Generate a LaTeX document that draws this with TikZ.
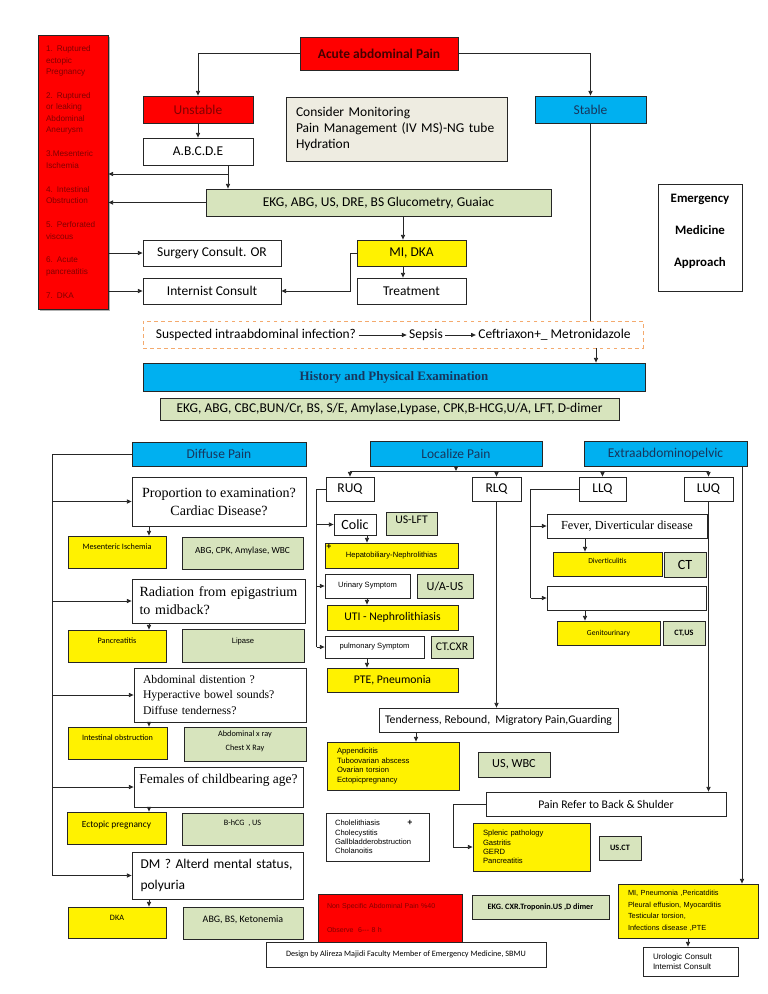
\documentclass[tikz,border=0pt]{standalone}
\usepackage{fontspec}
\setmainfont{Carlito}
\newfontfamily\tms{Liberation Serif}
\newfontfamily\ari{Liberation Sans}
\usepackage{xcolor}
\usepackage{tikz}
\usetikzlibrary{arrows.meta,shadows}

\definecolor{labgreen}{RGB}{215,228,189}
\definecolor{skyblue}{RGB}{0,176,240}
\definecolor{navy}{RGB}{23,54,93}
\definecolor{darkred}{RGB}{130,0,0}
\definecolor{maroon}{RGB}{70,0,0}
\definecolor{beige}{RGB}{238,236,225}
\definecolor{dashorange}{RGB}{244,170,110}

\tikzset{
  bx/.style={draw=black!85, line width=0.7pt, inner sep=1pt, align=center,
    font=\fontsize{11.5}{14}\selectfont},
  wbx/.style={bx, fill=white},
  ybx/.style={bx, fill=yellow},
  gbx/.style={bx, fill=labgreen},
  bbx/.style={bx, fill=skyblue, text=navy},
  rbx/.style={bx, fill=red, text=darkred},
  wh/.style 2 args={minimum width=#1*0.03cm, minimum height=#2*0.03cm},
  tw/.style={text width=#1*0.03cm},
  lift/.style={text depth=#1*0.03cm},
  tinyf/.style={font=\ari\fontsize{6.5}{8}\selectfont},
  smf/.style={font=\fontsize{#1}{#1}\selectfont},
  serif/.style={font=\tms\fontsize{12}{15.3}\selectfont},
  arr/.style={-{Triangle[length=4pt,width=3.5pt]}, draw=black!85, line width=0.7pt},
  ln/.style={draw=black!85, line width=0.7pt}
}

\begin{document}
\begin{tikzpicture}[x=0.03cm,y=-0.03cm]
\useasboundingbox (0,0) rectangle (768,994);
%% left list
\node[rbx, wh={70}{274}, tw=54, align=left, font=\ari\fontsize{7}{9.8}\selectfont,
  drop shadow={shadow xshift=2pt,shadow yshift=-2pt,opacity=.3,fill=black}] (list) at (73,172)
  {1. Ruptured\\ectopic\\Pregnancy\\[10.6pt]2. Ruptured\\or leaking\\Abdominal\\Aneurysm\\[10.6pt]%
   3.Mesenteric\\Ischemia\\[10.6pt]4. Intestinal\\Obstruction\\[10.6pt]5. Perforated\\viscous\\[10.6pt]%
   6. Acute\\pancreatitis\\[10.6pt]7. DKA};
%% top
\node[rbx, wh={158}{33}, text=maroon, font=\bfseries\fontsize{11.5}{14}\selectfont] (acute) at (379,53.5) {Acute abdominal Pain};
\node[rbx, wh={110}{27}] (unst) at (198,109.5) {Unstable};
\node[wbx, wh={110}{27}] (abcde) at (198,151.5) {A.B.C.D.E};
\node[bx, fill=beige, wh={221}{64}, tw=201, align=left, font=\fontsize{11.5}{13.6}\selectfont] (monit) at (396.5,129)
  {Consider Monitoring\\Pain Management (IV MS)-NG tube\\Hydration};
\node[bbx, wh={111}{27}] (stab) at (590.5,109.5) {Stable};
\node[gbx, wh={345}{27}] (ekg) at (378.5,202.5) {EKG, ABG, US, DRE, BS Glucometry, Guaiac};
\node[wbx, wh={138}{26}] (surg) at (212,253) {Surgery Consult. OR};
\node[wbx, wh={138}{26}] (intc) at (212,291) {Internist Consult};
\node[ybx, wh={109}{26}] (midka) at (411.5,253) {MI, DKA};
\node[wbx, wh={109}{26}] (treat) at (411.5,291) {Treatment};
\node[wbx, wh={84}{107}, font=\bfseries\fontsize{11}{27.2}\selectfont, lift=14] (ema) at (700,237.5) {Emergency\\Medicine\\Approach};
%%
\draw[arr] (acute.west) -| (unst.north);
\draw[arr] (acute.east) -| (stab.north);
\draw[arr] (unst.south) -- (abcde.north);
\coordinate (j1) at (228,174);
\draw[ln] (abcde.south -| j1) -- (j1);
\draw[arr] (j1) -- (j1 |- ekg.north);
\draw[arr] (j1) -- (j1 -| list.east);
\draw[arr] (ekg.west) -- (ekg.west -| list.east);
\draw[arr] (surg.west -| list.east) -- (surg.west);
\draw[arr] (intc.west -| list.east) -- (intc.west);
\coordinate (j2) at (403,230);
\draw[arr] (ekg.south -| j2) -- (midka.north -| j2);
\draw[arr] (midka.south -| j2) -- (treat.north -| j2);
\draw[arr] (midka.west) -- ++(-6,0) |- (intc.east);
%% infection row
\node[draw=dashorange, dashed, line width=0.8pt, wh={500}{27}, inner sep=0pt] (infbox) at (393,334.5) {};
\node[inner sep=2pt, font=\fontsize{11.5}{14}\selectfont] (inf) at (256,335) {Suspected intraabdominal infection?};
\node[inner sep=2pt, font=\fontsize{11.5}{14}\selectfont] (seps) at (426,335) {Sepsis};
\node[inner sep=2pt, font=\fontsize{11.5}{14}\selectfont] (ceft) at (554.5,335) {Ceftriaxon+\_ Metronidazole};
\draw[arr] (inf) -- (seps);
\draw[arr] (seps) -- (ceft);
\node[bbx, wh={502}{28}, font=\tms\bfseries\fontsize{11}{13}\selectfont] (hp) at (394,377) {History and Physical Examination};
\node[gbx, wh={459}{22}] (labs) at (389.5,409) {EKG, ABG, CBC,BUN/Cr, BS, S/E, Amylase,Lypase, CPK,B-HCG,U/A, LFT, D-dimer};
\draw[ln] (stab.south) -- (stab.south |- infbox.north);
\coordinate (j3) at (596,355);
\draw[arr] (infbox.south -| j3) -- (hp.north -| j3);
%% three heads
\node[bbx, wh={174}{24}] (diffuse) at (219,454) {Diffuse Pain};
\node[bbx, wh={172}{25}] (local) at (456,453.5) {Localize Pain};
\node[bbx, wh={163}{25}] (extra) at (665.5,453.5) {Extraabdominopelvic};
%% diffuse pain
\node[wbx, wh={174}{49}, serif] (q1) at (219,501.5) {Proportion to examination?\\Cardiac Disease?};
\node[ybx, wh={98}{32}, smf=7, lift=10] (mes) at (117,552) {Mesenteric Ischemia};
\node[gbx, wh={121}{32}, smf=8, lift=5] (t1) at (242.5,553) {ABG, CPK, Amylase, WBC};
\node[wbx, wh={173}{44}, serif, tw=158, align=left] (q2) at (218.5,601) {Radiation from epigastrium\\to midback?};
\node[ybx, wh={98}{32}, smf=7, lift=10] (pan) at (117,646) {Pancreatitis};
\node[gbx, wh={122}{33}, tinyf, lift=10] (lip) at (243,645.5) {Lipase};
\node[wbx, wh={172}{54}, font=\tms\fontsize{10}{13.2}\selectfont, tw=154, align=left] (q3) at (220,695) {Abdominal distention ?\\Hyperactive bowel sounds?\\Diffuse tenderness?};
\node[ybx, wh={99}{32}, smf=7, lift=10] (obs) at (117.5,743) {Intestinal obstruction};
\node[gbx, wh={122}{34}, font=\fontsize{7}{12}\selectfont, lift=6] (xray) at (245,744) {Abdominal x ray\\Chest X Ray};
\node[wbx, wh={169}{40}, font=\tms\fontsize{11.5}{14}\selectfont, lift=16] (q4) at (218.5,787) {Females of childbearing age?};
\node[ybx, wh={99}{32}, smf=8, lift=8] (ect) at (116.5,828) {Ectopic pregnancy};
\node[gbx, wh={121}{32}, smf=7, lift=12] (bhcg) at (242.5,829) {B-hCG\ \ , US};
\node[wbx, wh={171}{47}, font=\fontsize{11.5}{18}\selectfont, tw=154, align=left] (q5) at (217.5,875.5) {DM ? Alterd mental status,\\polyuria};
\node[ybx, wh={98}{31}, smf=7, lift=10] (dka) at (117,922.5) {DKA};
\node[gbx, wh={120}{32}, smf=8.5, lift=8] (ket) at (243,923) {ABG, BS, Ketonemia};
%%
\coordinate (dl) at (52,454);
\draw[ln] (diffuse.west) -- (diffuse.west -| dl) -- (q5.west -| dl);
\foreach \q in {q1,q2,q3,q4,q5} \draw[arr] (\q.west -| dl) -- (\q.west);
\coordinate (dx) at (149,0);
\foreach \q/\d in {q1/mes,q2/pan,q3/obs,q4/ect,q5/dka} \draw[arr] (\q.south -| dx) -- (\d.north -| dx);
%% localize pain
\node[wbx, wh={48}{24}] (ruq) at (350,489) {RUQ};
\node[wbx, wh={49}{24}] (rlq) at (496.5,489) {RLQ};
\node[wbx, wh={47}{24}] (llq) at (602.5,489) {LLQ};
\node[wbx, wh={49}{24}] (luq) at (708.5,489) {LUQ};
\coordinate (bus) at (456,471);
\draw[ln] (bus -| ruq.north) -- (bus -| luq.north);
\draw[arr] (local.south) -- (bus);
\foreach \b in {ruq,rlq,llq,luq} \draw[arr] (bus -| \b.north) -- (\b.north);
%% RUQ
\node[wbx, wh={42}{21}, smf=12] (colic) at (355,524.5) {Colic};
\node[gbx, wh={51}{23}, smf=10, lift=7] (uslft) at (411.5,523.5) {US-LFT};
\node[ybx, wh={133}{25}, tinyf] (hep) at (391.5,555.5) {Hepatobiliary-Nephrolithias};
\node[inner sep=0pt, font=\bfseries\fontsize{8}{8}\selectfont] (plusa) at (329,547) {+};
\node[wbx, wh={85}{24}, tinyf] (uri) at (367.5,586) {Urinary Symptom};
\node[gbx, wh={56}{24}, smf=10.5] (uaus) at (445,586) {U/A-US};
\node[ybx, wh={131}{25}, smf=10] (uti) at (392.5,617.5) {UTI - Nephrolithiasis};
\node[wbx, wh={99}{22}, tinyf] (pul) at (374.5,647) {pulmonary Symptom};
\node[gbx, wh={42}{22}, smf=10] (ctcxr) at (452,647) {CT.CXR};
\node[ybx, wh={131}{24}, smf=10] (pte) at (392.5,680) {PTE, Pneumonia};
\draw[ln] (ruq.west) -- ++(-9,0) coordinate (rl) -- (rl |- pul.west);
\foreach \b in {colic,uri,pul} \draw[arr] (rl |- \b.west) -- (\b.west);
\coordinate (rx) at (367,0);
\foreach \a/\b in {colic/hep,uri/uti,pul/pte} \draw[arr] (\a.south -| rx) -- (\b.north -| rx);
%% RLQ
\node[wbx, wh={239}{24}, smf=10] (tend) at (498.5,720) {Tenderness, Rebound, \ Migratory Pain,Guarding};
\node[ybx, wh={132}{48}, tinyf, tw=112, align=left] (app) at (393,766) {Appendicitis\\Tuboovarian abscess\\Ovarian torsion\\Ectopicpregnancy};
\node[gbx, wh={72}{25}, smf=10.5] (uswbc) at (514,764.5) {US, WBC};
\draw[arr] (rlq.south) -- (rlq.south |- tend.north);
\coordinate (tx) at (416,0);
\draw[arr] (tend.south -| tx) -- (app.north -| tx);
%% LLQ
\node[wbx, wh={160}{24}, font=\tms\fontsize{10.5}{13}\selectfont] (fever) at (627,526) {Fever, Diverticular disease};
\node[ybx, wh={109}{24}, smf=6.5, lift=6] (divt) at (607.5,564) {Diverticulitis};
\node[gbx, wh={42}{25}, smf=12] (ct) at (685,564.5) {CT};
\node[wbx, wh={159}{24}] (empt) at (626.5,598) {};
\node[ybx, wh={103}{24}, smf=6.5] (gen) at (608.5,633) {Genitourinary};
\node[gbx, wh={42}{24}, font=\bfseries\fontsize{7}{8}\selectfont] (ctus) at (684,633) {CT,US};
\draw[ln] (llq.west) -- ++(-48,0) coordinate (ll) -- (ll |- empt.west);
\foreach \b in {fever,empt} \draw[arr] (ll |- \b.west) -- (\b.west);
\coordinate (lx) at (585,0);
\foreach \a/\b in {fever/divt,empt/gen} \draw[arr] (\a.south -| lx) -- (\b.north -| lx);
%% LUQ
\node[wbx, wh={240}{24}, smf=10] (refer) at (606,804) {Pain Refer to Back \& Shulder};
\node[ybx, wh={117}{48}, tinyf, tw=97, align=left] (splen) at (531.5,847) {Splenic pathology\\Gastritis\\GERD\\Pancreatitis};
\node[gbx, wh={42}{24}, font=\bfseries\fontsize{7}{8}\selectfont] (usct) at (620,848) {US.CT};
\node[wbx, wh={103}{48}, tinyf, tw=85, align=left] (chole) at (377.5,837) {Cholelithiasis\\Cholecystitis\\Gallbladderobstruction\\Cholanoitis};
\node[inner sep=0pt, font=\bfseries\fontsize{8}{8}\selectfont] (plusb) at (410,823) {+};
\draw[arr] (luq.south) -- (luq.south |- refer.north);
\draw[arr] (refer.west) -- ++(-32,0) |- (splen.west);
%% extraabdominopelvic
\node[ybx, wh={140}{54}, font=\ari\fontsize{6.3}{9.8}\selectfont, tw=120, align=left] (mip) at (688,911)
  {MI, Pneumonia ,Pericatditis\\Pleural effusion, Myocarditis\\Testicular torsion,\\Infections disease ,PTE};
\node[wbx, wh={95}{29}, font=\ari\fontsize{6.8}{8.5}\selectfont, tw=75, align=left] (uro) at (690.5,961.5) {Urologic Consult\\Internist Consult};
\coordinate (ex) at (742,0);
\draw[arr] (extra.south -| ex) -- (mip.north -| ex);
\draw[arr] (mip.south) -- (mip.south |- uro.north);
%% bottom
\node[rbx, wh={144}{48}, font=\ari\fontsize{6}{7}\selectfont, tw=126, align=left] (nonsp) at (390,918)
  {Non Specific Abdominal Pain \%40\\[14pt]Observe \ 6--- 8 h};
\node[gbx, wh={137}{24}, font=\bfseries\fontsize{7}{8}\selectfont] (ekgb) at (540.5,907) {EKG. CXR.Troponin.US ,D dimer};
\node[wbx, wh={280}{25}, smf=7] (design) at (406,954.5) {Design by Alireza Majidi Faculty Member of Emergency Medicine, SBMU};
\end{tikzpicture}
\end{document}
